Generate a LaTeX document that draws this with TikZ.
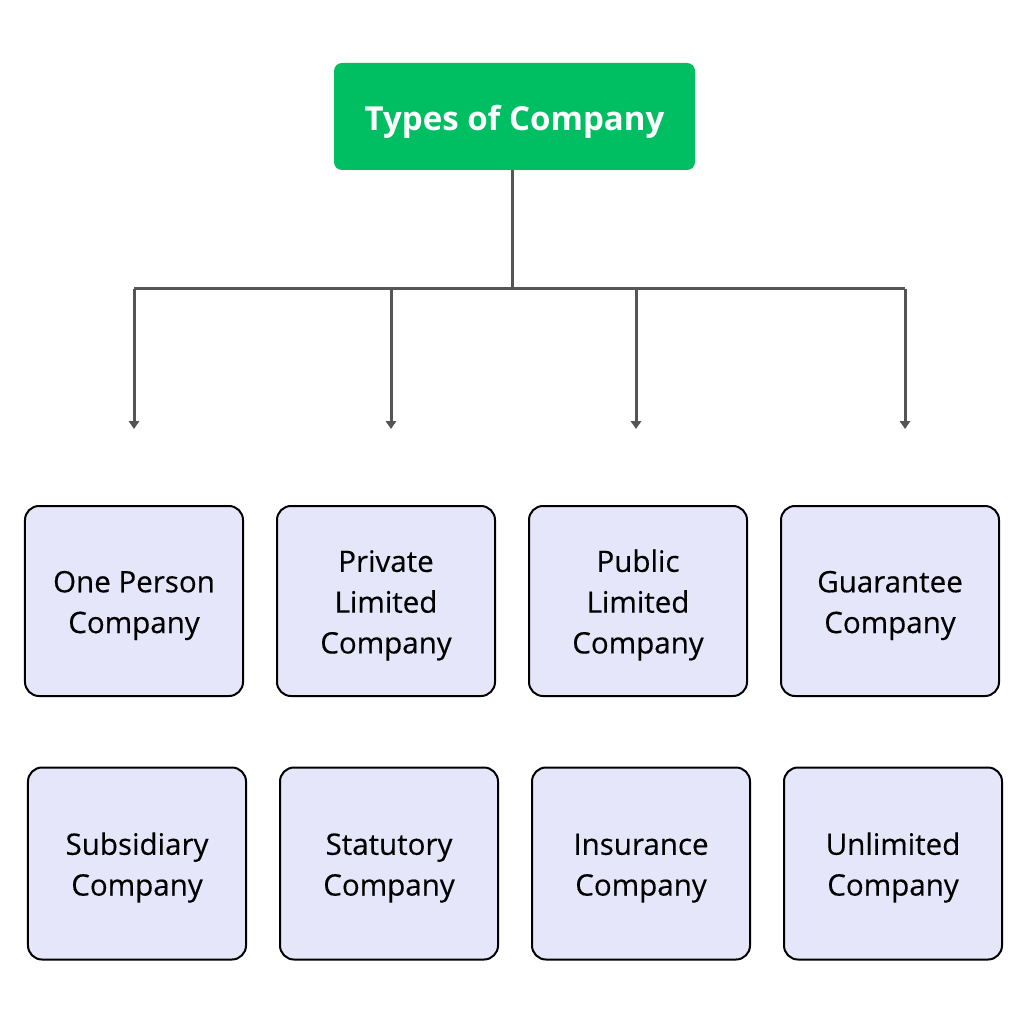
\documentclass[tikz,border=0pt]{standalone}
\usepackage{fontspec}
\setmainfont{Open Sans}
\newfontfamily\boxfont[FakeBold=0.35]{Open Sans}
\usetikzlibrary{arrows.meta}
\definecolor{titlegreen}{HTML}{00BF63}
\definecolor{boxfill}{HTML}{E6E6FA}
\definecolor{linegray}{HTML}{555555}
\newcommand{\lift}{\rule{0pt}{7.6mm}}
\tikzset{
	typebox/.style={draw=black, line width=0.5mm, fill=boxfill, rounded corners=3.5mm,
		minimum width=54.5mm, minimum height=47.5mm, align=center,
		font=\boxfont\fontsize{21}{29}\selectfont},
	link/.style={draw=linegray, line width=0.75mm},
	drop/.style={link, -{Triangle[width=2.6mm,length=2mm]}}
}
\begin{document}
\begin{tikzpicture}[x=0.25mm,y=-0.25mm]
	\useasboundingbox[fill=white] (0,0) rectangle (1024,1024);
	\node[fill=titlegreen, rounded corners=2mm, minimum width=90.25mm, minimum height=26.75mm,
		text=white, font=\fontsize{23.5}{28}\selectfont\bfseries] (title) at (514.5,116.5) {\rule{0pt}{8.9mm}Types of Company};
	% bus line
	\coordinate (bus) at (512,289);
	\coordinate (busl) at (134,289);
	\coordinate (busr) at (905,289);
	\draw[link] (title.south -| bus) -- (bus);
	\draw[link] (busl) -- (busr);
	\foreach \x/\n in {134/a,391/b,636/c,905/d} {
		\coordinate (top\n) at (\x,289);
		\coordinate (end\n) at (\x,429);
		\draw[drop] (top\n) -- (end\n);
	}
	% first row
	\node[typebox] (opc) at (134,601) {\lift One Person\\Company};
	\node[typebox] (plc) at (386,601) {\lift Private\\Limited\\Company};
	\node[typebox] (pub) at (638,601) {\lift Public\\Limited\\Company};
	\node[typebox] (guar) at (890,601) {\lift Guarantee\\Company};
	% second row
	\node[typebox, minimum height=48mm] (sub) at (137,863.5) {\lift Subsidiary\\Company};
	\node[typebox, minimum height=48mm] (stat) at (389,863.5) {\lift Statutory\\Company};
	\node[typebox, minimum height=48mm] (ins) at (641,863.5) {\lift Insurance\\Company};
	\node[typebox, minimum height=48mm] (unl) at (893,863.5) {\lift Unlimited\\Company};
\end{tikzpicture}
\end{document}
